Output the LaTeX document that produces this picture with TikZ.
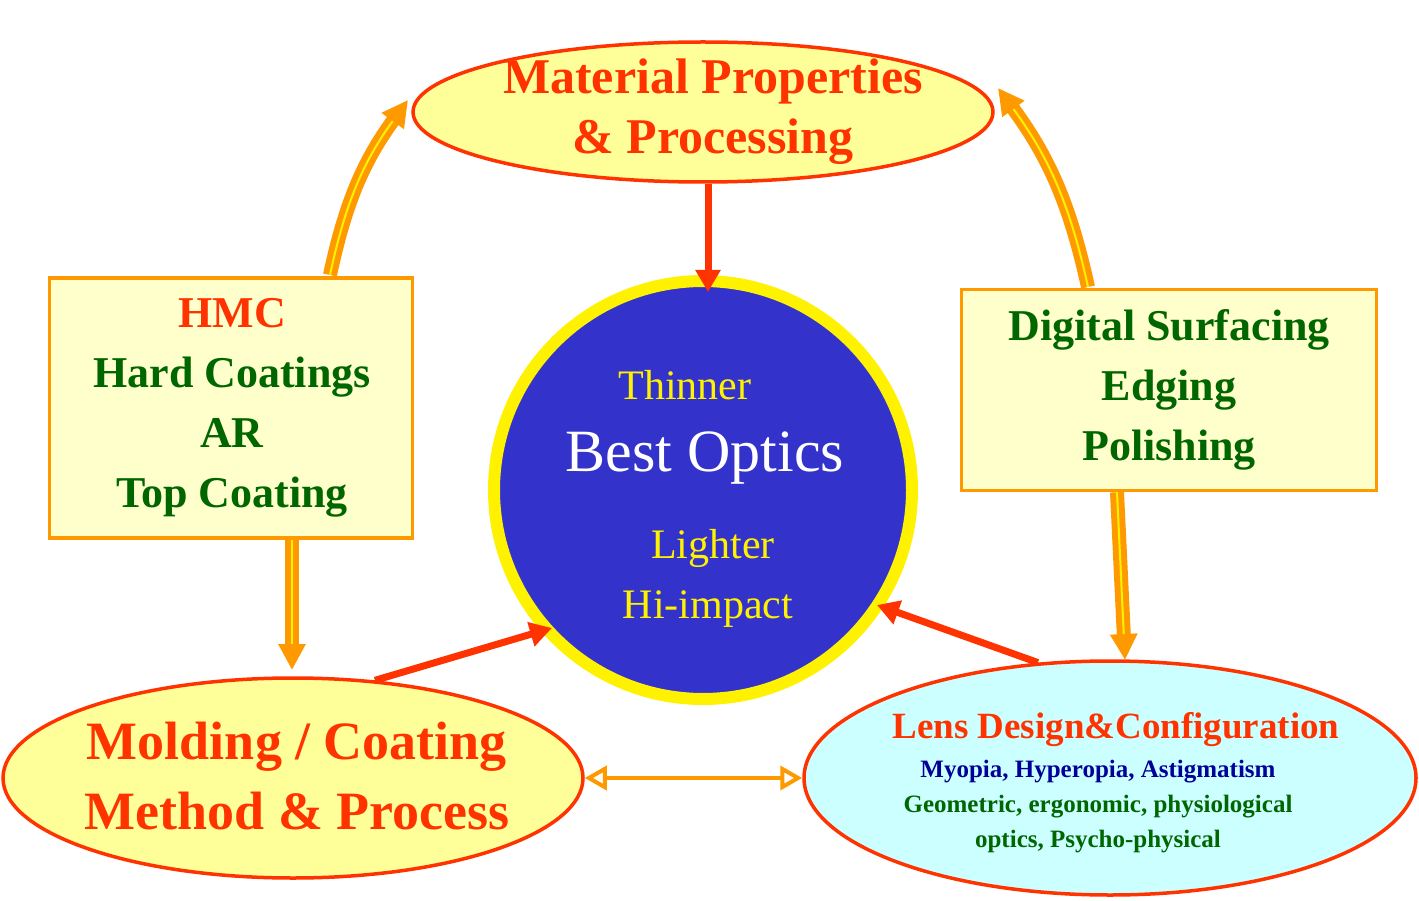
\documentclass[tikz,border=0pt]{standalone}
\usepackage{fontspec}
\setmainfont{Liberation Serif}
\usetikzlibrary{arrows.meta,shapes.geometric}
\definecolor{redo}{HTML}{FF3300}
\definecolor{orng}{HTML}{FF9900}
\definecolor{lyel}{HTML}{FFFF99}
\definecolor{pyel}{HTML}{FFFFCC}
\definecolor{gr}{HTML}{006600}
\definecolor{blu}{HTML}{3333CC}
\definecolor{navy}{HTML}{000099}
\definecolor{cy}{HTML}{CCFFFF}
\tikzset{
 ell/.style={ellipse,draw=redo,line width=3.5pt,inner sep=0pt},
 box/.style={rectangle,draw=orng,line width=3.5pt,fill=pyel,inner sep=0pt},
 redarr/.style={draw=redo,line width=7pt,-{Triangle[length=22pt,width=24pt]}},
 orarr/.style={draw=orng,line width=6pt,double=yellow,double distance=2pt,-{Triangle[length=26pt,width=26pt,fill=orng]}},
 orarr2/.style={draw=orng,line width=4pt,{Triangle[open,length=22pt,width=24pt]}-{Triangle[open,length=22pt,width=24pt]}},
}
\begin{document}
\begin{tikzpicture}[x=1pt,y=-1pt]
\useasboundingbox (0,0) rectangle (1419,901);
\node[ell,fill=lyel,minimum width=580,minimum height=140] (top) at (703,112) {};
\node[text=redo,font=\bfseries\fontsize{50}{60}\selectfont,align=center] at (713,112) {Material Properties\\\& Processing};
\node[circle,draw=yellow,line width=12pt,fill=blu,minimum size=418,inner sep=0pt] (c) at (703,490) {};
\node[text=yellow,font=\fontsize{42}{48}\selectfont] at (685,385) {Thinner};
\node[text=white,font=\fontsize{60}{70}\selectfont] at (705,458) {Best Optics};
\node[text=yellow,font=\fontsize{42}{48}\selectfont] at (713,548) {Lighter};
\node[text=yellow,font=\fontsize{42}{48}\selectfont] at (708,609) {Hi-impact};
\node[box,minimum width=363,minimum height=260] (lb) at (231,408) {};
\node[font=\bfseries\fontsize{44}{60}\selectfont,align=center,text=gr] at (232,408) {\textcolor{redo}{HMC}\\Hard Coatings\\AR\\Top Coating};
\node[box,minimum width=415,minimum height=201] (rb) at (1169,390) {};
\node[font=\bfseries\fontsize{44}{60}\selectfont,align=center,text=gr] at (1169,390) {Digital Surfacing\\Edging\\Polishing};
\node[ell,fill=lyel,minimum width=580,minimum height=200] (bl) at (293,778) {};
\node[text=redo,font=\bfseries\fontsize{54}{70}\selectfont,align=center] at (297,776) {Molding / Coating\\Method \& Process};
\node[ell,fill=cy,minimum width=612,minimum height=234] (br) at (1110,778) {};
\node[text=redo,font=\bfseries\fontsize{37}{40}\selectfont] at (1116,730) {Lens Design\&Configuration};
\node[font=\bfseries\fontsize{25}{35}\selectfont,align=center,text=gr] at (1098,807) {\textcolor{navy}{Myopia, Hyperopia, Astigmatism}\\Geometric, ergonomic, physiological\\optics, Psycho-physical};
\draw[redarr] (top.south -| 708,0) -- (708,292);
\draw[redarr] (bl.50) -- (552,628);
\draw[redarr] (br.122) -- (877,605);
\draw[orarr] (330,275) to[bend left=12] (408,100);
\draw[orarr] (1088,287) to[bend right=12] (998,88);
\draw[orarr] (lb.south -| 292,0) -- (292,670);
\draw[orarr] (rb.south -| 1117,0) -- (1125,660);
\draw[orarr2] (bl.east) -- (br.west);
\end{tikzpicture}
\end{document}
